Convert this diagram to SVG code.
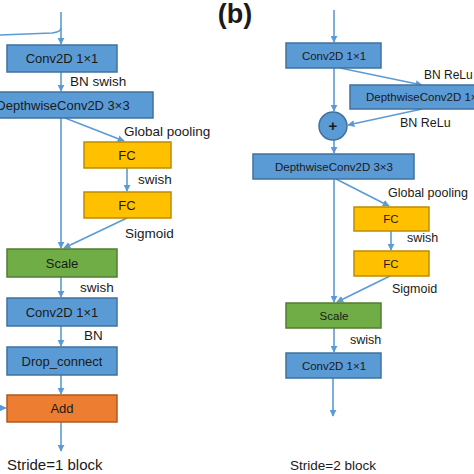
<svg xmlns="http://www.w3.org/2000/svg" width="474" height="474" viewBox="0 0 474 474">
<style>
text{font-family:"Liberation Sans",Arial,sans-serif;fill:#1a1a1a}
.blue{fill:#5b9bd5;stroke:#41719c;stroke-width:1.5}
.fc{fill:#ffc000;stroke:#bc8c00;stroke-width:1.5}
.green{fill:#70ad47;stroke:#507e32;stroke-width:1.5}
.add{fill:#ed7d31;stroke:#ae5a21;stroke-width:1.5}
.bl{font-size:13px;text-anchor:middle}
.br{font-size:11.5px;text-anchor:middle}
.ll{font-size:13.5px}
.lr{font-size:12.5px}
.edge{fill:none;stroke:#5b9bd5;stroke-width:1.6;marker-end:url(#ah)}
.line{fill:none;stroke:#5b9bd5;stroke-width:1.6}
</style>
<defs>
<marker id="ah" viewBox="0 0 10 10" refX="9" refY="5" markerWidth="7" markerHeight="7" markerUnits="userSpaceOnUse" orient="auto">
<path d="M0,0 L10,5 L0,10 z" fill="#5b9bd5"/>
</marker>
</defs>
<rect width="474" height="474" fill="#ffffff"/>
<text x="235" y="23" style="font-size:27px;font-weight:bold;text-anchor:middle">(b)</text>

<g id="connectors">
<!-- left -->
<path class="line" d="M0,35 L52,33 Q61,32 61,28"/>
<path class="edge" d="M61,12 L61,44"/>
<path class="edge" d="M61,72 L61,91"/>
<path class="edge" d="M65,118 L124,141"/>
<path class="edge" d="M127,168 L127,191"/>
<path class="edge" d="M127,218 L64,248"/>
<path class="edge" d="M61,118 L61,248"/>
<path class="edge" d="M61,277 L61,297"/>
<path class="edge" d="M61,326 L61,346"/>
<path class="edge" d="M61,375 L61,394"/>
<path class="edge" d="M0,408 L6,408"/>
<path class="edge" d="M61,422 L61,451"/>
<!-- right -->
<path class="edge" d="M334,10 L334,42"/>
<path class="edge" d="M334,68 L334,111"/>
<path class="edge" d="M340,68 L422,85"/>
<path class="edge" d="M422,109 L348,125"/>
<path class="edge" d="M334,140 L334,153"/>
<path class="edge" d="M336,179 L389,206"/>
<path class="edge" d="M391,231 L391,250"/>
<path class="edge" d="M390,276 L337,302"/>
<path class="edge" d="M334,179 L334,302"/>
<path class="edge" d="M334,328 L334,352"/>
<path class="edge" d="M333,378 L333,416"/>
</g>

<g id="l-conv1">
<rect class="blue" x="7" y="45" width="110" height="27"/>
<text class="bl" x="62" y="63">Conv2D 1×1</text>
</g>
<text class="ll" x="70" y="86">BN swish</text>
<g id="l-dw">
<rect class="blue" x="-10" y="92" width="163" height="26"/>
<text class="bl" x="63" y="110">DepthwiseConv2D 3×3</text>
</g>
<text class="ll" x="124" y="136">Global pooling</text>
<g id="l-fc1">
<rect class="fc" x="84" y="142" width="87" height="26"/>
<text class="bl" x="127" y="160">FC</text>
</g>
<text class="ll" x="138" y="184">swish</text>
<g id="l-fc2">
<rect class="fc" x="84" y="192" width="87" height="26"/>
<text class="bl" x="127" y="210">FC</text>
</g>
<text class="ll" x="125" y="238">Sigmoid</text>
<g id="l-scale">
<rect class="green" x="7" y="249" width="110" height="28"/>
<text class="bl" x="62" y="268">Scale</text>
</g>
<text class="ll" x="80" y="292">swish</text>
<g id="l-conv2">
<rect class="blue" x="7" y="298" width="110" height="28"/>
<text class="bl" x="62" y="317">Conv2D 1×1</text>
</g>
<text class="ll" x="84" y="340">BN</text>
<g id="l-drop">
<rect class="blue" x="7" y="347" width="110" height="28"/>
<text class="bl" x="62" y="366">Drop_connect</text>
</g>
<g id="l-add">
<rect class="add" x="7" y="395" width="110" height="27"/>
<text class="bl" x="62" y="413">Add</text>
</g>
<text x="7" y="470" style="font-size:15px">Stride=1 block</text>

<g id="r-conv1">
<rect class="blue" x="286" y="43" width="95" height="25"/>
<text class="br" x="334" y="60">Conv2D 1×1</text>
</g>
<text x="424" y="79" style="font-size:12px">BN ReLu</text>
<g id="r-dw1">
<rect class="blue" x="350" y="85" width="140" height="24"/>
<text x="366" y="101" style="font-size:11.5px">DepthwiseConv2D 1×1</text>
</g>
<text class="lr" x="400" y="127">BN ReLu</text>
<g id="r-plus">
<circle cx="333" cy="126" r="14" class="blue"/>
<text x="333" y="131" style="font-size:15px;text-anchor:middle;font-weight:bold">+</text>
</g>
<g id="r-dw3">
<rect class="blue" x="253" y="154" width="161" height="25"/>
<text class="br" x="334" y="171">DepthwiseConv2D 3×3</text>
</g>
<text class="lr" x="388" y="197">Global pooling</text>
<g id="r-fc1">
<rect class="fc" x="354" y="207" width="75" height="24"/>
<text class="br" x="391" y="223">FC</text>
</g>
<text class="lr" x="407" y="242">swish</text>
<g id="r-fc2">
<rect class="fc" x="354" y="251" width="75" height="25"/>
<text class="br" x="391" y="268">FC</text>
</g>
<text class="lr" x="392" y="293">Sigmoid</text>
<g id="r-scale">
<rect class="green" x="286" y="303" width="95" height="25"/>
<text class="br" x="334" y="320">Scale</text>
</g>
<text class="lr" x="350" y="344">swish</text>
<g id="r-conv2">
<rect class="blue" x="286" y="353" width="95" height="25"/>
<text class="br" x="334" y="370">Conv2D 1×1</text>
</g>
<text x="290" y="470" style="font-size:13.5px">Stride=2 block</text>
</svg>
